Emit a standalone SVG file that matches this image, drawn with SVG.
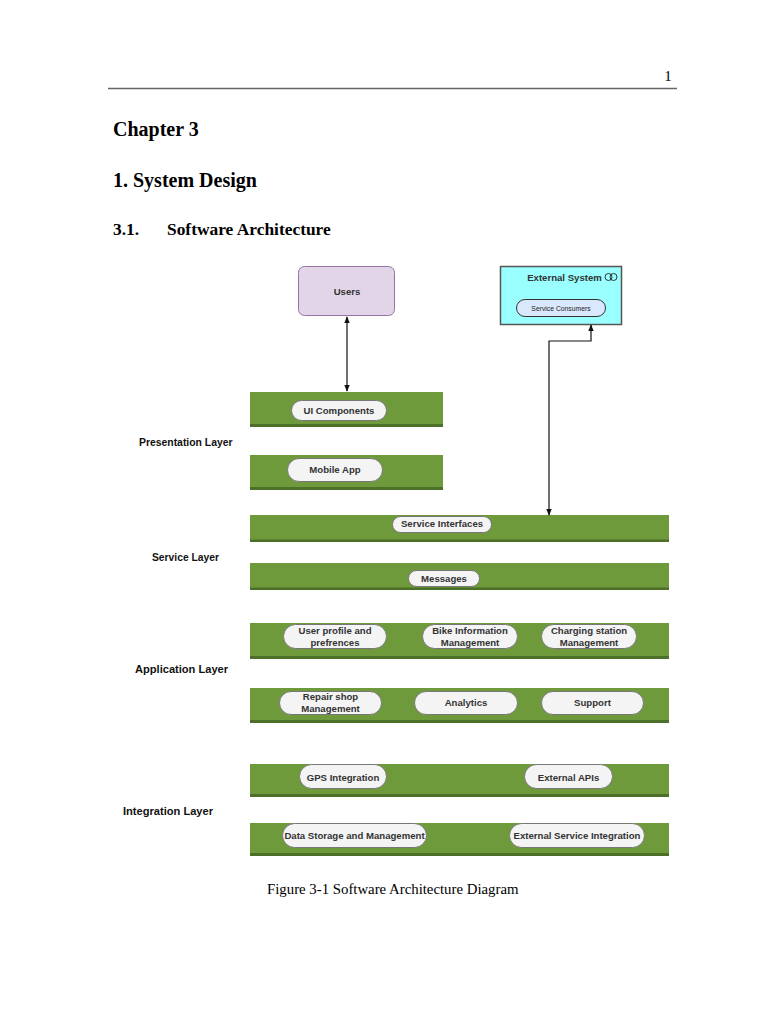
<svg xmlns="http://www.w3.org/2000/svg" width="768" height="1024" viewBox="0 0 768 1024">
<defs>
<style>
.page{font-family:"Liberation Serif","Times New Roman",serif;fill:#000}
.h{font-weight:bold}
.bar{fill:#6f9a3c}
.band{fill:#4c7027}
.pill{fill:#f4f4f4;stroke:#777;stroke-width:1}
.t{font-family:"Liberation Sans",Arial,sans-serif;font-weight:bold;font-size:9.6px;fill:#333;text-anchor:middle}
.lay{font-family:"Liberation Sans",Arial,sans-serif;font-weight:bold;fill:#111}
.conn{fill:none;stroke:#111;stroke-width:1.2}
</style>
<marker id="ah" viewBox="0 0 10 10" refX="9" refY="5" markerWidth="7" markerHeight="7" orient="auto-start-reverse" markerUnits="userSpaceOnUse">
<path d="M0,1 L10,5 L0,9 Z" fill="#111"/>
</marker>
</defs>
<rect width="768" height="1024" fill="#fff"/>

<g id="header">
<text class="page" x="668" y="81" font-size="15" text-anchor="middle">1</text>
<line x1="108" y1="88.5" x2="677" y2="88.5" stroke="#666" stroke-width="1.5"/>
<text class="page h" x="113" y="136" font-size="20">Chapter 3</text>
<text class="page h" x="113" y="187" font-size="20">1.  System Design</text>
<text class="page h" x="113" y="235" font-size="17.4">3.1.</text>
<text class="page h" x="167" y="235" font-size="17.4">Software Architecture</text>
</g>

<g id="layer-labels">
<text class="lay" x="139" y="445.5" font-size="10.4">Presentation Layer</text>
<text class="lay" x="152" y="560.5" font-size="10.3">Service Layer</text>
<text class="lay" x="135" y="673" font-size="11.1">Application Layer</text>
<text class="lay" x="123" y="815" font-size="11.1">Integration Layer</text>
</g>

<g id="users">
<rect x="298.5" y="266.5" width="96" height="49" rx="6" fill="#e1d5e7" stroke="#9673a6" stroke-width="1"/>
<text class="t" x="347" y="294.5" font-size="10" fill="#222">Users</text>
</g>

<g id="external-system">
<rect x="500.5" y="266.5" width="121" height="58" fill="#99ffff" stroke="#555" stroke-width="1.5"/>
<text class="t" x="564.5" y="281" font-size="9.7" fill="#222">External System</text>
<circle cx="608.5" cy="277" r="3.5" fill="none" stroke="#222" stroke-width="0.9"/>
<circle cx="613.5" cy="277" r="3.5" fill="none" stroke="#222" stroke-width="0.9"/>
<rect x="516.5" y="299.5" width="89" height="17" rx="8.5" fill="#dae8fc" stroke="#333" stroke-width="1"/>
<text x="561" y="310.5" font-family="Liberation Sans, Arial, sans-serif" font-size="6.8" fill="#222" text-anchor="middle">Service Consumers</text>
</g>

<g id="ui-components">
<rect class="bar" x="250" y="392" width="193" height="35"/>
<rect class="band" x="250" y="424" width="193" height="3"/>
<rect class="pill" x="291.5" y="400.5" width="95" height="20" rx="10"/>
<text class="t" x="339" y="413.5">UI Components</text>
</g>

<g id="mobile-app">
<rect class="bar" x="250" y="455" width="193" height="35"/>
<rect class="band" x="250" y="487" width="193" height="3"/>
<rect class="pill" x="287.5" y="458.5" width="95" height="23" rx="11.5"/>
<text class="t" x="335" y="472.5">Mobile App</text>
</g>

<g id="service-interfaces">
<rect class="bar" x="250" y="515" width="419" height="27"/>
<rect class="band" x="250" y="539.5" width="419" height="2.5"/>
<rect class="pill" x="392.5" y="516.5" width="99" height="16" rx="8"/>
<text class="t" x="442" y="526.5">Service Interfaces</text>
</g>

<g id="messages">
<rect class="bar" x="250" y="563" width="419" height="27"/>
<rect class="band" x="250" y="587.5" width="419" height="2.5"/>
<rect class="pill" x="408.5" y="570.5" width="71" height="16" rx="8"/>
<text class="t" x="444" y="581.5">Messages</text>
</g>

<g id="application-row1">
<rect class="bar" x="250" y="623" width="419" height="36"/>
<rect class="band" x="250" y="656" width="419" height="3"/>
<rect class="pill" x="283.5" y="624.5" width="103" height="24" rx="12"/>
<text class="t" x="335" y="633.5">User profile and</text>
<text class="t" x="335" y="645.5">prefrences</text>
<rect class="pill" x="422.5" y="624.5" width="95" height="24" rx="12"/>
<text class="t" x="470" y="633.5">Bike Information</text>
<text class="t" x="470" y="645.5">Management</text>
<rect class="pill" x="541.5" y="624.5" width="95" height="24" rx="12"/>
<text class="t" x="589" y="633.5">Charging station</text>
<text class="t" x="589" y="645.5">Management</text>
</g>

<g id="application-row2">
<rect class="bar" x="250" y="688" width="419" height="35"/>
<rect class="band" x="250" y="720" width="419" height="3"/>
<rect class="pill" x="279.5" y="691.5" width="102" height="23" rx="11.5"/>
<text class="t" x="330.5" y="699.5">Repair shop</text>
<text class="t" x="330.5" y="711.5">Management</text>
<rect class="pill" x="414.5" y="691.5" width="103" height="23" rx="11.5"/>
<text class="t" x="466" y="705.5">Analytics</text>
<rect class="pill" x="541.5" y="691.5" width="102" height="23" rx="11.5"/>
<text class="t" x="592.5" y="705.5">Support</text>
</g>

<g id="integration-row1">
<rect class="bar" x="250" y="764" width="419" height="33"/>
<rect class="band" x="250" y="794" width="419" height="3"/>
<rect class="pill" x="299.5" y="764.5" width="87" height="24" rx="12"/>
<text class="t" x="343" y="780.5">GPS Integration</text>
<rect class="pill" x="524.5" y="764.5" width="88" height="24" rx="12"/>
<text class="t" x="568.5" y="780.5">External APIs</text>
</g>

<g id="integration-row2">
<rect class="bar" x="250" y="823" width="419" height="33"/>
<rect class="band" x="250" y="853" width="419" height="3"/>
<rect class="pill" x="282.5" y="823.5" width="144" height="24" rx="12"/>
<text class="t" x="354.5" y="838.5">Data Storage and Management</text>
<rect class="pill" x="509.5" y="823.5" width="135" height="24" rx="12"/>
<text class="t" x="577" y="838.5">External Service Integration</text>
</g>

<g id="connectors">
<path class="conn" d="M347,317 V391" marker-start="url(#ah)" marker-end="url(#ah)"/>
<path class="conn" d="M549,515 V341 H591 V325" marker-start="url(#ah)" marker-end="url(#ah)"/>
</g>

<g id="caption">
<text class="page" x="267" y="894" font-size="14.8">Figure 3-1 Software Architecture Diagram</text>
</g>
</svg>
